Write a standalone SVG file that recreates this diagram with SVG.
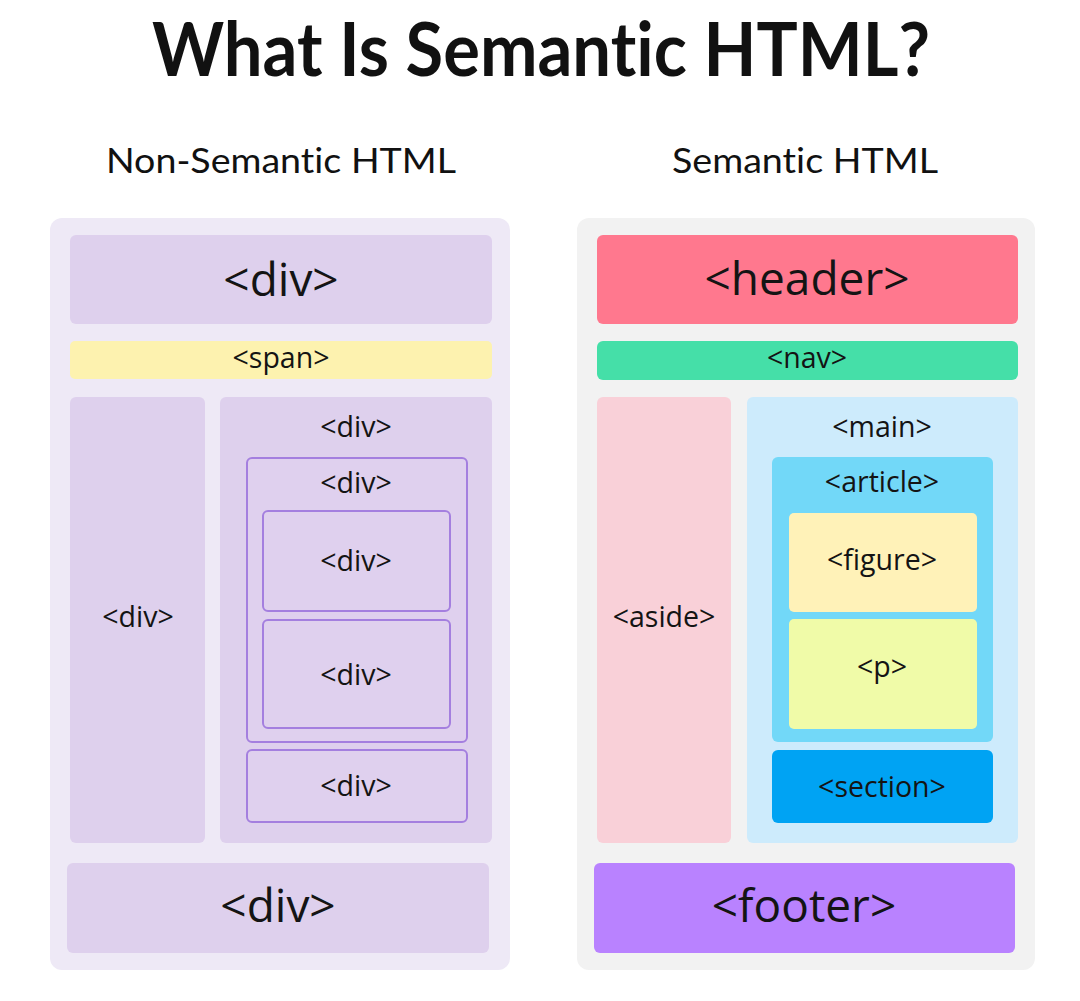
<svg xmlns="http://www.w3.org/2000/svg" width="1080" height="1001" viewBox="0 0 1080 1001">
<style>
.t{font-family:"Open Sans","DejaVu Sans",sans-serif;fill:#141414;text-anchor:middle}
.big{font-size:46px}
.sm{font-size:28.5px}
.np{fill:#DED0ED}
.ol{fill:#DFD0EE;stroke:#A47FDF;stroke-width:2}
.h{font-family:Lato,Inter,"Liberation Sans",sans-serif;fill:#111;text-anchor:middle;font-variant-ligatures:none;font-feature-settings:"liga" 0,"dlig" 0}
</style>
<rect width="1080" height="1001" fill="#FFFFFF"/>
<g id="title">
<text class="h" x="541" y="76" font-size="74" font-weight="700" textLength="778" lengthAdjust="spacingAndGlyphs">What Is Semantic HTML?</text>
</g>
<g id="heading-left"><text class="h" x="281" y="173" font-size="34" font-weight="400" textLength="350" lengthAdjust="spacingAndGlyphs">Non-Semantic HTML</text></g>
<g id="heading-right"><text class="h" x="805" y="173" font-size="34" font-weight="400" textLength="266" lengthAdjust="spacingAndGlyphs">Semantic HTML</text></g>

<g id="panel-left"><rect x="50" y="218" width="460" height="752" rx="12" fill="#EEE9F6"/></g>
<g id="panel-right"><rect x="577" y="218" width="458" height="752" rx="12" fill="#F2F2F2"/></g>

<g id="ns-div-top"><rect class="np" x="70" y="235" width="422" height="89" rx="6"/><text class="t big" x="281" y="296">&lt;div&gt;</text></g>
<g id="ns-span"><rect x="70" y="341" width="422" height="38" rx="5" fill="#FDF2AF"/><text class="t sm" x="281" y="368">&lt;span&gt;</text></g>
<g id="ns-div-left"><rect class="np" x="70" y="397" width="135" height="446" rx="6"/><text class="t sm" x="138" y="627">&lt;div&gt;</text></g>
<g id="ns-div-right"><rect class="np" x="220" y="397" width="272" height="446" rx="6"/><text class="t sm" x="356" y="437">&lt;div&gt;</text></g>
<g id="ns-div-outer"><rect class="ol" x="247" y="458" width="220" height="284" rx="5"/><text class="t sm" x="356" y="493">&lt;div&gt;</text></g>
<g id="ns-div-inner1"><rect class="ol" x="263" y="511" width="187" height="100" rx="5"/><text class="t sm" x="356" y="571">&lt;div&gt;</text></g>
<g id="ns-div-inner2"><rect class="ol" x="263" y="620" width="187" height="108" rx="5"/><text class="t sm" x="356" y="685">&lt;div&gt;</text></g>
<g id="ns-div-lower"><rect class="ol" x="247" y="750" width="220" height="72" rx="5"/><text class="t sm" x="356" y="796">&lt;div&gt;</text></g>
<g id="ns-div-bottom"><rect class="np" x="67" y="863" width="422" height="90" rx="6"/><text class="t big" x="278" y="922">&lt;div&gt;</text></g>

<g id="s-header"><rect x="597" y="235" width="421" height="89" rx="6" fill="#FF788E"/><text class="t big" x="807" y="295">&lt;header&gt;</text></g>
<g id="s-nav"><rect x="597" y="341" width="421" height="39" rx="6" fill="#45DFA8"/><text class="t sm" x="807" y="368">&lt;nav&gt;</text></g>
<g id="s-aside"><rect x="597" y="397" width="134" height="446" rx="6" fill="#F9D0D8"/><text class="t sm" x="664" y="627">&lt;aside&gt;</text></g>
<g id="s-main"><rect x="747" y="397" width="271" height="446" rx="6" fill="#CDEBFC"/><text class="t sm" x="882" y="437">&lt;main&gt;</text></g>
<g id="s-article"><rect x="772" y="457" width="221" height="285" rx="6" fill="#72D8F8"/><text class="t sm" x="882" y="492">&lt;article&gt;</text></g>
<g id="s-figure"><rect x="789" y="513" width="188" height="99" rx="5" fill="#FFF2B8"/><text class="t sm" x="882" y="570">&lt;figure&gt;</text></g>
<g id="s-p"><rect x="789" y="619" width="188" height="110" rx="5" fill="#F0FBA8"/><text class="t sm" x="882" y="677">&lt;p&gt;</text></g>
<g id="s-section"><rect x="772" y="750" width="221" height="73" rx="6" fill="#00A3F3"/><text class="t sm" x="882" y="797">&lt;section&gt;</text></g>
<g id="s-footer"><rect x="594" y="863" width="421" height="90" rx="6" fill="#B982FF"/><text class="t big" x="804" y="922">&lt;footer&gt;</text></g>

<g id="connectors"/>
</svg>
